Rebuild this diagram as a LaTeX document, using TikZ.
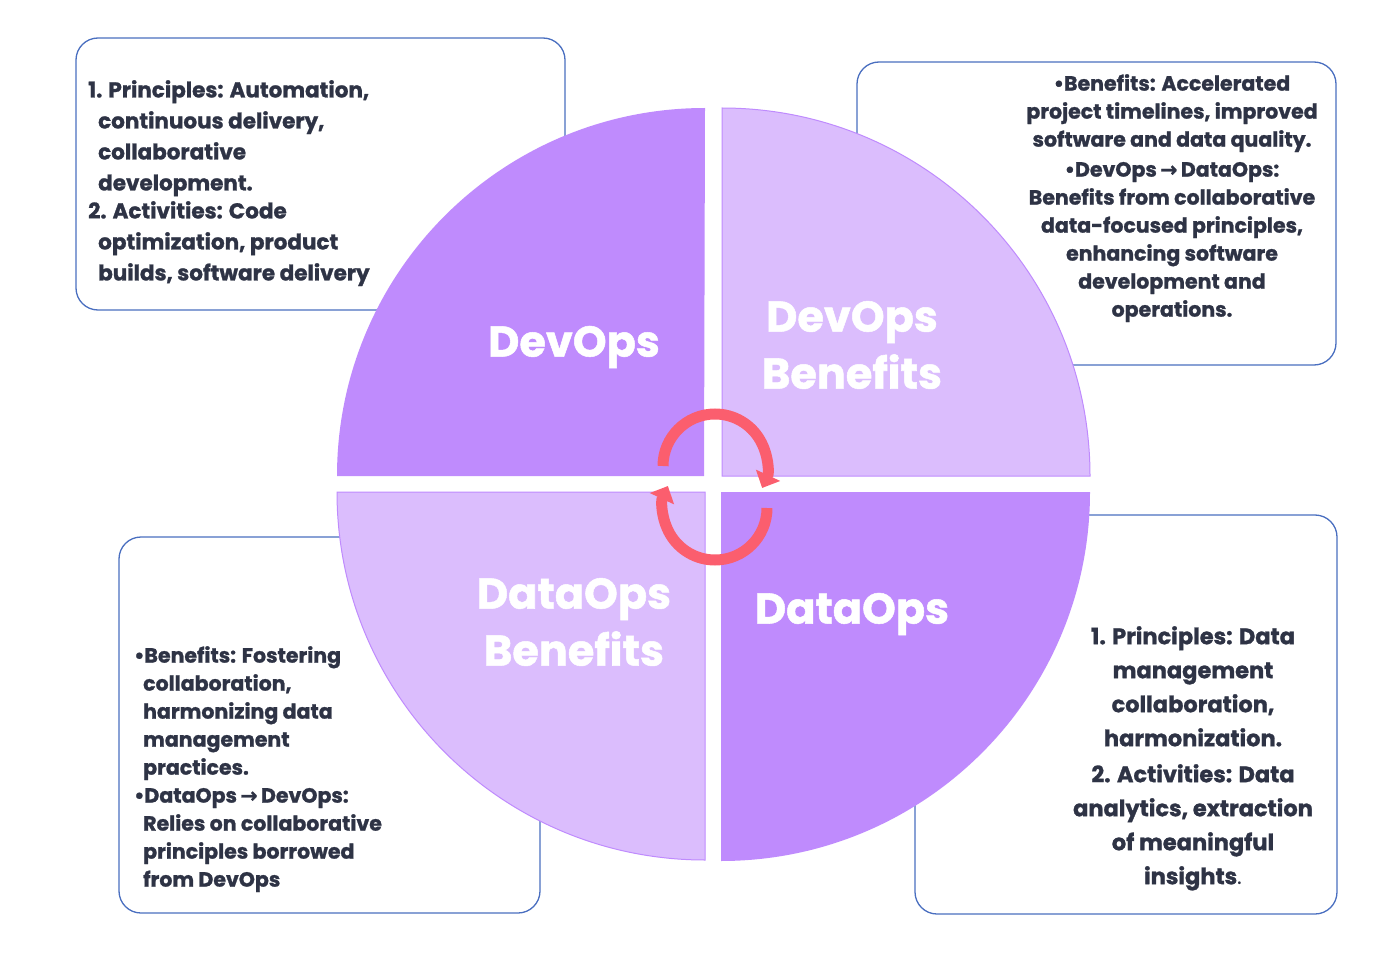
\documentclass[tikz,border=0pt]{standalone}
\usepackage{fontspec}
\setmainfont{Poppins}[BoldFeatures={FakeBold=1.2}]
\newfontfamily\arrfont{DejaVu Sans}[FakeBold=1.2]
\usetikzlibrary{arrows.meta}
\definecolor{dk}{HTML}{BF8BFD}
\definecolor{lt}{HTML}{DBBDFD}
\definecolor{bx}{HTML}{4A6FC0}
\definecolor{tx}{HTML}{2E3345}
\definecolor{ar}{HTML}{FB5E6E}
\newcommand{\ra}{{\arrfont\,→\,}}
\tikzset{
  infobox/.style={draw=bx,line width=1.3pt,fill=white,rounded corners=22pt},
  quad/.style={line width=1pt},
  title/.style={text=white,font=\bfseries\fontsize{43}{57}\selectfont,align=center},
  info/.style={text=tx,font=\bfseries\fontsize{21.5}{31}\selectfont},
  infos/.style={text=tx,font=\bfseries\fontsize{20.5}{28}\selectfont},
  cyc/.style={draw=ar,line width=11pt,-{Triangle[length=14pt,width=26pt]}}
}
\begin{document}
\begin{tikzpicture}[x=1pt,y=-1pt]
\useasboundingbox (0,0) rectangle (1384,960);
\draw[infobox] (76,38) rectangle (565,310);
\draw[infobox] (857,62) rectangle (1336,365);
\draw[infobox] (119,537) rectangle (540,913);
\draw[infobox] (915,515) rectangle (1337,914);
% quadrants
\fill[dk,quad] (704,476) -- (337,476) arc[start angle=180,end angle=270,radius=368] -- cycle;
\filldraw[fill=lt,draw=dk,quad] (722,476) -- (722,108) arc[start angle=270,end angle=360,radius=368] -- cycle;
\filldraw[fill=lt,draw=dk,quad] (705,492) -- (705,860) arc[start angle=90,end angle=180,radius=368] -- cycle;
\fill[dk,quad] (721,492) -- (1090,492) arc[start angle=0,end angle=90,radius=369] -- cycle;
\node[title] (t1) at (574,347) {DevOps};
\node[title] (t2) at (852,345) {DevOps\\Benefits};
\node[title] (t3) at (574,622) {DataOps\\Benefits};
\node[title] (t4) at (852,614) {DataOps};
% arrows
\draw[cyc] (663,466) arc[start angle=180,end angle=385,radius=52];
\draw[cyc] (767,508) arc[start angle=0,end angle=205,radius=52];
% texts
\node[info,anchor=north west,align=left,inner sep=0pt] (b1) at (88,80) {1. Principles: Automation,\\
\hspace*{10pt}continuous delivery,\\ \hspace*{10pt}collaborative\\ \hspace*{10pt}development.\\[-3pt]
2. Activities: Code\\ \hspace*{10pt}optimization, product\\ \hspace*{10pt}builds, software delivery};
\node[infos,anchor=north,align=center,inner sep=0pt] (b2) at (1172,74) {•Benefits: Accelerated\\ project timelines, improved\\ software and data quality.\\[2pt]
•DevOps\ra DataOps:\\ Benefits from collaborative\\ data-focused principles,\\ enhancing software\\ development and\\ operations.};
\node[infos,anchor=north west,align=left,inner sep=0pt] (b3) at (134,646) {•Benefits: Fostering\\ \hspace*{9pt}collaboration,\\ \hspace*{9pt}harmonizing data\\ \hspace*{9pt}management\\ \hspace*{9pt}practices.\\
•DataOps\ra DevOps:\\ \hspace*{9pt}Relies on collaborative\\ \hspace*{9pt}principles borrowed\\ \hspace*{9pt}from DevOps};
\node[text=tx,anchor=north,align=center,inner sep=0pt,font=\bfseries\fontsize{22.5}{34}\selectfont] (b4) at (1193,626) {1. Principles: Data\\ management\\ collaboration,\\ harmonization.\\[2pt]
2. Activities: Data\\ analytics, extraction\\ of meaningful\\ insights{\mdseries .}};
\end{tikzpicture}
\end{document}
